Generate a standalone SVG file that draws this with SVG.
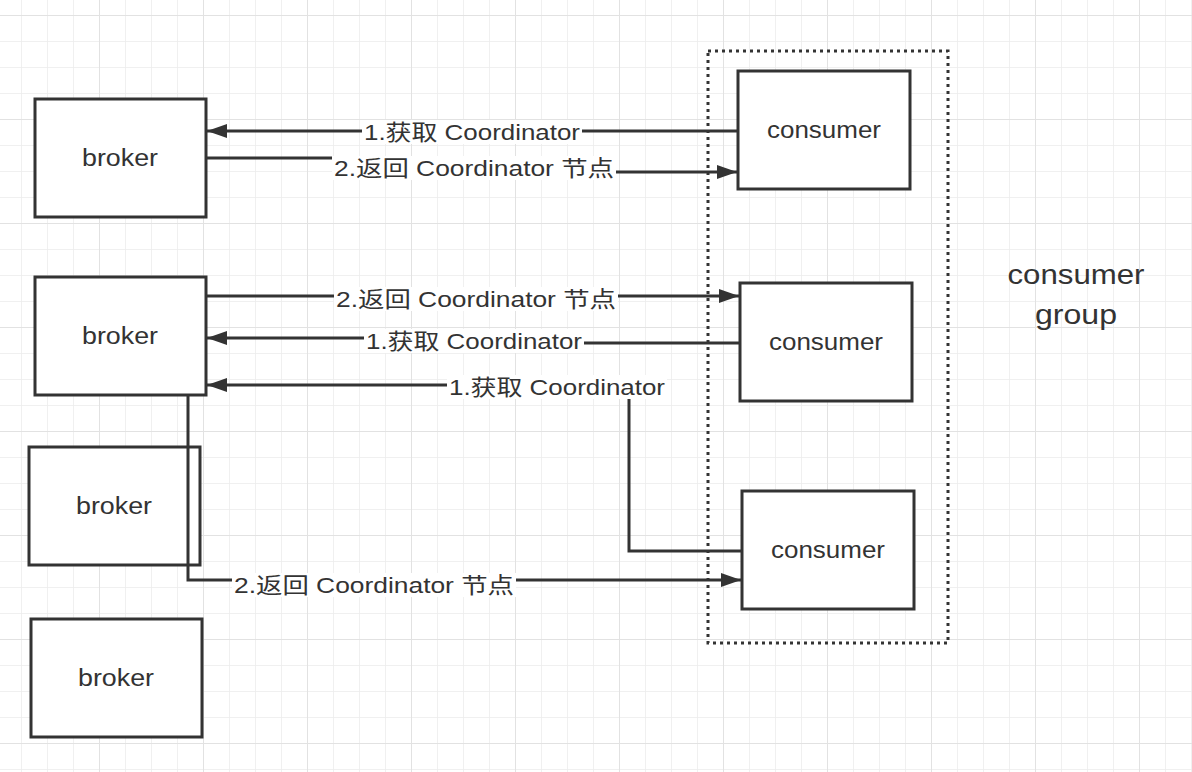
<svg xmlns="http://www.w3.org/2000/svg" width="1192" height="772" viewBox="0 0 1192 772">
<defs>
<pattern id="g" x="21" y="15" width="26" height="26" patternUnits="userSpaceOnUse"><path d="M0 0H26M0 0V26" fill="none" stroke="#ececec" stroke-width="1.5"/></pattern>
<pattern id="G" x="99" y="15" width="104" height="104" patternUnits="userSpaceOnUse"><path d="M0 0H104M0 0V104" fill="none" stroke="#e2e2e2" stroke-width="2"/></pattern>
<marker id="a" viewBox="0 0 20 14" refX="20" refY="7" markerWidth="20" markerHeight="14" markerUnits="userSpaceOnUse" orient="auto"><path d="M0 0L20 7L0 14Z" fill="#333"/></marker>
</defs>
<style>
.n{fill:#fff;stroke:#333;stroke-width:3}
.t{font-family:"Liberation Sans","Noto Sans CJK SC",sans-serif;font-size:23px;fill:#333;text-anchor:middle;dominant-baseline:central}
.c path{fill:none;stroke:#333;stroke-width:3}
.l{font-family:"Liberation Sans","Noto Sans CJK SC",sans-serif;font-size:22px;fill:#333;text-anchor:middle;dominant-baseline:central}
.lb{fill:#fff}
</style>
<rect width="1192" height="772" fill="#fff"/>
<rect width="1192" height="772" fill="url(#g)"/>
<rect width="1192" height="772" fill="url(#G)"/>
<g id="group"><rect x="708" y="51" width="240" height="592" fill="none" stroke="#333" stroke-width="3" stroke-dasharray="3 4"/><text class="t" x="1076" y="275" style="font-size:27px" textLength="137" lengthAdjust="spacingAndGlyphs">consumer</text><text class="t" x="1076" y="315" style="font-size:27px" textLength="82" lengthAdjust="spacingAndGlyphs">group</text></g>
<g id="broker1"><rect class="n" x="35" y="99" width="171" height="118"/><text class="t" x="120" y="158" textLength="76" lengthAdjust="spacingAndGlyphs">broker</text></g>
<g id="broker2"><rect class="n" x="35" y="277" width="171" height="118"/><text class="t" x="120" y="336" textLength="76" lengthAdjust="spacingAndGlyphs">broker</text></g>
<g id="broker3"><rect class="n" x="29" y="447" width="171" height="118"/><text class="t" x="114" y="506" textLength="76" lengthAdjust="spacingAndGlyphs">broker</text></g>
<g id="broker4"><rect class="n" x="31" y="619" width="171" height="118"/><text class="t" x="116" y="678" textLength="76" lengthAdjust="spacingAndGlyphs">broker</text></g>
<g id="consumer1"><rect class="n" x="738" y="71" width="172" height="118"/><text class="t" x="824" y="130" textLength="114" lengthAdjust="spacingAndGlyphs">consumer</text></g>
<g id="consumer2"><rect class="n" x="740" y="283" width="172" height="118"/><text class="t" x="826" y="342" textLength="114" lengthAdjust="spacingAndGlyphs">consumer</text></g>
<g id="consumer3"><rect class="n" x="742" y="491" width="172" height="118"/><text class="t" x="828" y="550" textLength="114" lengthAdjust="spacingAndGlyphs">consumer</text></g>
<g id="connectors" class="c">
<path d="M738 131H207" marker-end="url(#a)"/>
<path d="M206 158H474V172H737" marker-end="url(#a)"/>
<path d="M206 296H739" marker-end="url(#a)"/>
<path d="M740 343H474V338H207" marker-end="url(#a)"/>
<path d="M742 551H629V385H207" marker-end="url(#a)"/>
<path d="M188 395V580H741" marker-end="url(#a)"/>
<rect class="lb" x="362" y="120" width="220" height="24"/><text class="l" x="472" y="132" textLength="216" lengthAdjust="spacingAndGlyphs">1.获取 Coordinator</text>
<rect class="lb" x="332" y="156" width="284" height="24"/><text class="l" x="474" y="168" textLength="280" lengthAdjust="spacingAndGlyphs">2.返回 Coordinator 节点</text>
<rect class="lb" x="334" y="287" width="284" height="24"/><text class="l" x="476" y="299" textLength="280" lengthAdjust="spacingAndGlyphs">2.返回 Coordinator 节点</text>
<rect class="lb" x="364" y="329" width="220" height="24"/><text class="l" x="474" y="341" textLength="216" lengthAdjust="spacingAndGlyphs">1.获取 Coordinator</text>
<rect class="lb" x="447" y="375" width="220" height="24"/><text class="l" x="557" y="387" textLength="216" lengthAdjust="spacingAndGlyphs">1.获取 Coordinator</text>
<rect class="lb" x="232" y="573" width="284" height="24"/><text class="l" x="374" y="585" textLength="280" lengthAdjust="spacingAndGlyphs">2.返回 Coordinator 节点</text>
</g>
</svg>
